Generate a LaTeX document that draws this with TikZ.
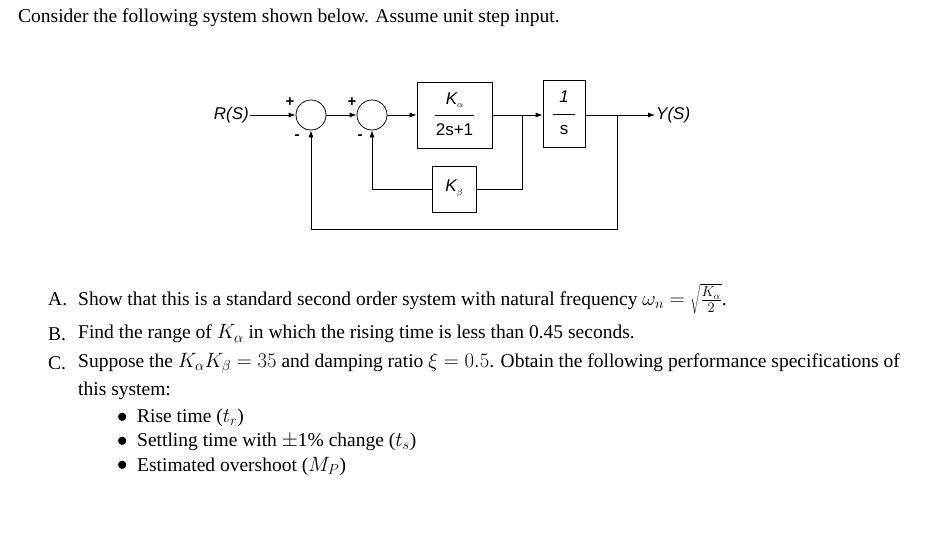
\documentclass[tikz,border=0pt]{standalone}
\usepackage{fontspec}
\setmainfont{Liberation Serif}
\newfontfamily\arialf{Liberation Sans}
\usetikzlibrary{arrows.meta}
\begin{document}
\begin{tikzpicture}[x=1pt,y=-1pt,
  blk/.style={draw,line width=0.8pt,inner sep=0pt},
  sumn/.style={draw,circle,minimum size=30pt,inner sep=0pt,line width=0.8pt},
  ln/.style={line width=0.8pt},
  ar/.style={ln,-{Latex[length=7pt,width=5pt]}},
  dg/.style={font=\arialf\fontsize{17}{20}\selectfont},
  tx/.style={anchor=west,inner sep=0pt,font=\fontsize{19.5}{22}\selectfont}]
\useasboundingbox (0,0) rectangle (930,541);
\node[tx] (hd) at (18,18) {Consider the following system shown below. Assume unit step input.};
% diagram
\node[dg,anchor=east,inner sep=1pt] (r) at (250,115) {\itshape R(S)};
\node[sumn] (s1) at (311,115) {};
\node[sumn] (s2) at (372,115) {};
\node[blk,minimum width=75pt,minimum height=66pt] (b1) at (454.5,115) {};
\node[dg,inner sep=0pt] (b1n) at (454.5,100) {\itshape K\raisebox{-3pt}{\fontsize{9}{9}\selectfont$\alpha$}};
\draw[ln] (435,115) -- (474,115);
\node[dg,inner sep=0pt] (b1d) at (454.5,130) {2s+1};
\node[blk,minimum width=42pt,minimum height=67pt] (b2) at (564,113.5) {};
\node[dg,inner sep=0pt] (b2n) at (564,97) {\itshape 1};
\draw[ln] (553,114) -- (575,114);
\node[dg,inner sep=0pt] (b2d) at (564,130) {s};
\node[blk,minimum width=44pt,minimum height=46pt] (kb) at (454,189) {};
\node[dg,inner sep=0pt] (kbt) at (454,189) {\itshape K\raisebox{-4pt}{\fontsize{9}{9}\selectfont$\beta$}};
\node[dg,anchor=west,inner sep=1pt] (y) at (655,115) {\itshape Y(S)};
\coordinate (br1) at (522,115);
\coordinate (br2) at (617,115);
\draw[ar] (r.east) -- (s1.west);
\draw[ar] (s1.east) -- (s2.west);
\draw[ar] (s2.east) -- (b1.west);
\draw[ar] (b1.east) -- (b2.west |- br1);
\draw[ar] (b2.east |- br2) -- (y.west);
\draw[ln] (br1) |- (kb.east);
\draw[ar] (kb.west) -| (s2.south);
\draw[ar] (br2) |- (311,229) -- (s1.south);
\node[dg,font=\arialf\bfseries\fontsize{15}{15}\selectfont,inner sep=0pt] (p1) at (290,102) {+};
\node[dg,font=\arialf\bfseries\fontsize{15}{15}\selectfont,inner sep=0pt] (m1) at (297,137) {-};
\node[dg,font=\arialf\bfseries\fontsize{15}{15}\selectfont,inner sep=0pt] (p2) at (352,102) {+};
\node[dg,font=\arialf\bfseries\fontsize{15}{15}\selectfont,inner sep=0pt] (m2) at (360,137) {-};
% text
\node[tx] (la) at (48,299) {A.};
\node[tx] (ta) at (78,299) {Show that this is a standard second order system with natural frequency $\omega_n=\sqrt{\frac{K_\alpha}{2}}$.};
\node[tx] (lb) at (48,334) {B.};
\node[tx] (tb) at (78,334) {Find the range of $K_\alpha$ in which the rising time is less than 0.45 seconds.};
\node[tx] (lc) at (48,363) {C.};
\node[tx] (tc) at (78,363) {Suppose the $K_\alpha K_\beta=35$ and damping ratio $\xi=0.5$. Obtain the following performance specifications of};
\node[tx] (tc2) at (78,391) {this system:};
\node[tx] (u1) at (117,418) {$\bullet$};
\node[tx] (v1) at (137,418) {Rise time ($t_r$)};
\node[tx] (u2) at (117,442) {$\bullet$};
\node[tx] (v2) at (137,442) {Settling time with $\pm$1\% change ($t_s$)};
\node[tx] (u3) at (117,466) {$\bullet$};
\node[tx] (v3) at (137,466) {Estimated overshoot ($M_P$)};
\end{tikzpicture}
\end{document}
